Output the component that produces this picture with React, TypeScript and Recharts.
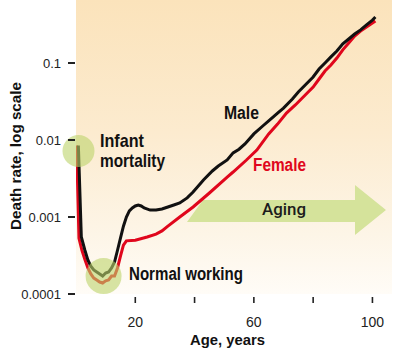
import React from 'react';
import {
  LineChart,
  Line,
  XAxis,
  YAxis,
  CartesianGrid,
  ReferenceDot,
  ReferenceArea,
  Customized,
} from 'recharts';

// ---- data ----
const maleAges = [0.8, 1.8, 3, 4, 5, 6, 7, 8, 9, 10, 11, 12, 13, 14, 15, 16, 17, 18, 19, 20, 21, 22, 23, 25, 27, 29, 31, 33, 35, 37.5, 39.5, 43, 46, 48, 51, 53, 55, 57, 60, 63, 65, 68, 70, 73, 75, 78, 80, 82, 84, 86, 88, 90, 92, 94, 96, 98, 100, 101];
const maleRates = [0.0085, 0.00055, 0.00037, 0.000277, 0.00023, 0.000205, 0.000193, 0.000182, 0.000171, 0.000187, 0.000193, 0.000218, 0.00026, 0.00037, 0.00053, 0.00076, 0.001, 0.0012, 0.00131, 0.00139, 0.00143, 0.00139, 0.00131, 0.00123, 0.00123, 0.00127, 0.00135, 0.00143, 0.00152, 0.00177, 0.00211, 0.00303, 0.00396, 0.00459, 0.0055, 0.0068, 0.0076, 0.0089, 0.012, 0.0152, 0.0177, 0.0224, 0.026, 0.034, 0.042, 0.055, 0.0658, 0.0835, 0.1, 0.12, 0.143, 0.177, 0.205, 0.238, 0.269, 0.312, 0.361, 0.395];
const femaleAges = [0.2, 1, 2, 3, 4, 5, 6, 7, 8, 9, 10, 11, 12, 13, 14, 15, 16, 17, 20, 24, 27, 29, 31, 35, 39.5, 45, 51, 53, 57.5, 61, 65, 68, 71, 74, 78, 80, 82, 84, 86, 88, 90, 92, 94, 96, 98, 100, 101];
const femaleRates = [0.0085, 0.00053, 0.00037, 0.00028, 0.000218, 0.000182, 0.000161, 0.000152, 0.000143, 0.000139, 0.000148, 0.000152, 0.000171, 0.000171, 0.000218, 0.00031, 0.00043, 0.00049, 0.0005, 0.00055, 0.0006, 0.00066, 0.00076, 0.001, 0.00135, 0.00205, 0.0033, 0.00384, 0.0055, 0.0074, 0.012, 0.0161, 0.0224, 0.0285, 0.0408, 0.0487, 0.062, 0.0787, 0.094, 0.116, 0.148, 0.182, 0.224, 0.26, 0.294, 0.33, 0.351];

const yTicks = [0.0001, 0.001, 0.01, 0.1];
const yTickLabels = ['0.0001', '0.001', '0.01', '0.1'];
const xTicks = [20, 40, 60, 80, 100];
const xTickLabels = ['20', '', '60', '', '100'];

const maleData = maleAges.map((age, i) => ({ age, rate: maleRates[i] }));
const femaleData = femaleAges.map((age, i) => ({ age, rate: femaleRates[i] }));

const FONT = '"Liberation Sans", Arial, "DejaVu Sans", sans-serif';
const RED = '#e0061c';

function XTick(props: any) {
  const { x, y, payload } = props;
  const idx = xTicks.indexOf(payload.value);
  const label = idx >= 0 ? xTickLabels[idx] : '';
  return (
    <g>
      <line x1={x} x2={x} y1={y + 3} y2={y + 9} stroke="#222" strokeWidth={1.6} />
      {label ? (
        <text x={x} y={y + 33} textAnchor="middle" fontSize={14} fill="#222" fontFamily={FONT}>
          {label}
        </text>
      ) : null}
    </g>
  );
}

function YTick(props: any) {
  const { x, y, payload } = props;
  const idx = yTicks.indexOf(payload.value);
  const label = idx >= 0 ? yTickLabels[idx] : '';
  return (
    <g>
      <line x1={x - 8} x2={x - 1} y1={y} y2={y} stroke="#222" strokeWidth={2} />
      <text x={x - 15} y={y} dy="0.36em" textAnchor="end" fontSize={13} fill="#222" fontFamily={FONT}>
        {label}
      </text>
    </g>
  );
}

function ArrowShape(props: any) {
  const { x, y, width, height } = props;
  const sx = width / 201;
  const sy = height / 50;
  const pts = [
    [2, 37],
    [18, 15],
    [170, 15],
    [170, 0],
    [201, 25],
    [170, 50],
    [170, 37],
  ]
    .map(([px, py]) => `${x + px * sx},${y + py * sy}`)
    .join(' ');
  return (
    <g>
      <polygon points={pts} fill="#d5e39b" />
      <text
        x={x + 77 * sx}
        y={y + 30 * sy}
        fontSize={17}
        fontWeight={500}
        fill="#1c1c1c"
        fontFamily='Roboto, "Liberation Sans", sans-serif'
        textLength={44}
        lengthAdjust="spacingAndGlyphs"
      >
        Aging
      </text>
    </g>
  );
}

function Annotations() {
  const bold = { fontFamily: FONT, fontWeight: 700 as const };
  return (
    <g>
      <text x={100} y={147} fontSize={19} fill="#111" textLength={44} lengthAdjust="spacingAndGlyphs" {...bold}>
        Infant
      </text>
      <text x={100} y={167} fontSize={19} fill="#111" textLength={65} lengthAdjust="spacingAndGlyphs" {...bold}>
        mortality
      </text>
      <text x={224} y={119} fontSize={18} fill="#111" textLength={35} lengthAdjust="spacingAndGlyphs" {...bold}>
        Male
      </text>
      <text x={253} y={171} fontSize={18} fill={RED} textLength={53} lengthAdjust="spacingAndGlyphs" {...bold}>
        Female
      </text>
      <text x={129} y={280} fontSize={18} fill="#111" textLength={114} lengthAdjust="spacingAndGlyphs" {...bold}>
        Normal working
      </text>
      <text
        x={21}
        y={156}
        transform="rotate(-90 21 156)"
        textAnchor="middle"
        fontSize={15}
        fill="#111"
        textLength={148}
        lengthAdjust="spacingAndGlyphs"
        {...bold}
      >
        Death rate, log scale
      </text>
      <text x={227.5} y={345} textAnchor="middle" fontSize={15} fill="#111" textLength={75} lengthAdjust="spacingAndGlyphs" {...bold}>
        Age, years
      </text>
    </g>
  );
}

export default function App() {
  return (
    <div style={{ position: 'absolute', left: 0, top: 0, width: 400, height: 363, background: '#fff' }}>
      <LineChart width={400} height={363} margin={{ top: 0, right: 8, bottom: 0, left: 0 }}>
        <defs>
          <linearGradient id="bgGrad" x1="0" y1="0" x2="0" y2="1">
            <stop offset="0%" stopColor="#fbe3bb" />
            <stop offset="45%" stopColor="#fcebcf" />
            <stop offset="80%" stopColor="#fdf5e7" />
            <stop offset="100%" stopColor="#fffcf7" />
          </linearGradient>
        </defs>
        <CartesianGrid horizontal={false} vertical={false} fill="url(#bgGrad)" stroke="none" />
        <XAxis
          type="number"
          dataKey="age"
          domain={[0, 106.6]}
          ticks={xTicks}
          allowDataOverflow
          axisLine={false}
          tickLine={false}
          tickSize={0}
          tickMargin={0}
          height={69}
          tick={<XTick />}
          interval={0}
        />
        <YAxis
          type="number"
          dataKey="rate"
          scale="log"
          domain={[0.0001, 0.658]}
          ticks={yTicks}
          allowDataOverflow
          axisLine={false}
          tickLine={false}
          tickSize={0}
          tickMargin={0}
          width={76}
          tick={<YTick />}
          interval={0}
        />
        <ReferenceArea
          x1={36.77}
          x2={104.57}
          y1={0.000584}
          y2={0.002603}
          ifOverflow="visible"
          shape={(p: any) => <ArrowShape {...p} />}
        />
        <Line
          data={femaleData}
          dataKey="rate"
          type="linear"
          stroke={RED}
          strokeWidth={3}
          dot={false}
          isAnimationActive={false}
        />
        <Line
          data={maleData}
          dataKey="rate"
          type="linear"
          stroke="#111"
          strokeWidth={3}
          dot={false}
          isAnimationActive={false}
        />
        <ReferenceDot x={0.84} y={0.0072} r={16} fill="#bcd46a" fillOpacity={0.6} stroke="none" ifOverflow="visible" />
        <ReferenceDot x={9.3} y={0.000171} r={18} fill="#bcd46a" fillOpacity={0.6} stroke="none" ifOverflow="visible" />
        <Customized component={Annotations} />
      </LineChart>
    </div>
  );
}
